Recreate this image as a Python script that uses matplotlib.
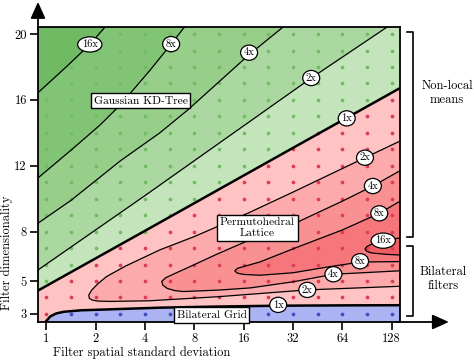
import numpy as np
import matplotlib
matplotlib.use("Agg")
import matplotlib.pyplot as plt
from matplotlib.ticker import NullLocator
from matplotlib.transforms import blended_transform_factory

plt.rcParams["font.family"] = ["cmr10", "DejaVu Serif"]
plt.rcParams["axes.unicode_minus"] = False

# plot extent: x in octaves of sigma (log2), y in filter dimensions
X_RANGE = (-0.17, 7.17)
Y_RANGE = (2.51, 20.43)

SIGMA_TICKS = [1, 2, 4, 8, 16, 32, 64, 128]
DIM_TICKS = [3, 5, 8, 12, 16, 20]

# measured sample points and which method was fastest there
# G = Gaussian KD-tree, R = permutohedral lattice, B = bilateral grid
SAMPLE_OCTAVES = [0, 0.5, 1, 1.5, 2, 2.5, 3, 3.5, 4, 4.5, 5, 5.5, 6, 6.5, 7]
SAMPLE_DIMS = [20, 19, 18, 17, 16, 15, 14, 13, 12, 11, 10, 9, 8, 7, 6, 5, 4, 3]
SAMPLE_WINNER = [
    "GGGGGGGGGGGGGGG",
    "GGGGGGGGGGGGGGG",
    "GGGGGGGGGGGGGGG",
    "GGGGGGGGGGGGGGG",
    "GGGGGGGGGGGGGGR",
    "GGGGGGGGGGGGGRR",
    "GGGGGGGGGGGRRRR",
    "GGGGGGGGGGRRRRR",
    "GGGGGGGGGRRRRRR",
    "GGGGGGGGRRRRRRR",
    "GGGGGGGRRRRRRRR",
    "GGGGGGRRRRRRRRR",
    "GGGGGRRRRRRRRRR",
    "GGGRRRRRRRRRRRR",
    "GGRRRRRRRRRRRRR",
    "GRRRRRRRRRRRRRR",
    "RRRRRRRRRRRRRRR",
    "RBBBBBBBBBBBBBB",
]

# Gaussian KD-tree speed-up contours (octaves, dims), left edge -> top edge
KD_1X_OCT = [-0.17, 2.0, 4.74, 7.17]
KD_1X_DIM = [4.42, 8.05, 12.65, 16.72]
KD_2X_OCT = [-0.17, 2.0, 5.37, 6.91]
KD_2X_DIM = [5.67, 10.19, 17.33, 20.43]
KD_4X_OCT = [-0.17, 0.5, 1.5, 2.3, 2.87, 3.5, 4.11, 4.8]
KD_4X_DIM = [8.51, 9.9, 12.3, 14.0, 15.4, 17.1, 18.75, 20.43]
KD_8X_OCT = [-0.17, 0.5, 1.09, 1.5, 2.1, 2.53, 2.8]
KD_8X_DIM = [11.26, 12.95, 14.48, 15.7, 17.8, 19.39, 20.43]
KD_16X_OCT = [-0.17, 0.4, 0.88, 1.19]
KD_16X_DIM = [16.44, 18.0, 19.37, 20.43]

# bilateral grid / lattice boundary (1x), bottom-left -> right edge
GRID_1X_OCT = [-0.02, 0.08, 0.2, 0.35, 0.7, 1.5, 2.3, 3.5, 4.7, 6.0, 7.17]
GRID_1X_DIM = [2.51, 2.85, 3.03, 3.13, 3.22, 3.30, 3.38, 3.45, 3.50, 3.52, 3.53]

# permutohedral speed-up contours: upper branch (right edge -> tip) then lower
LAT_2X_OCT = [7.17, 6.46, 5.0, 4.0, 3.0, 2.3, 1.6, 1.22, 1.05, 0.92, 0.86,
              0.87, 0.93, 1.05, 1.3, 2.1, 3.5, 5.29, 7.17]
LAT_2X_DIM = [13.5, 12.49, 10.4, 9.0, 7.7, 6.89, 5.9, 5.27, 4.85, 4.45, 4.15,
              3.95, 3.84, 3.78, 3.76, 3.80, 4.05, 4.46, 4.68]
LAT_4X_OCT = [7.17, 6.62, 6.0, 5.1, 4.2, 3.42, 2.91, 2.6, 2.42, 2.34, 2.36,
              2.45, 2.6, 2.77, 3.5, 4.13, 5.0, 5.82, 7.17]
LAT_4X_DIM = [11.7, 10.77, 9.85, 8.59, 7.6, 6.58, 5.87, 5.45, 5.2, 4.98, 4.75,
              4.55, 4.42, 4.36, 4.45, 4.58, 4.95, 5.41, 5.62]
LAT_8X_OCT = [7.17, 6.75, 6.0, 5.1, 4.33, 4.05, 3.88, 3.82, 3.87, 4.0, 4.33,
              5.0, 5.7, 6.36, 7.17]
LAT_8X_DIM = [9.85, 9.11, 8.1, 7.07, 6.16, 5.92, 5.78, 5.62, 5.48, 5.4, 5.35,
              5.5, 5.85, 6.15, 6.18]
LAT_16X_OCT = [7.17, 6.83, 6.6, 6.5, 6.46, 6.5, 6.6, 6.9, 7.17]
LAT_16X_DIM = [7.62, 7.45, 7.25, 7.1, 6.95, 6.8, 6.7, 6.62, 6.58]

# contour labels
LABEL_TEXT = ["16x", "8x", "4x", "2x", "1x",
              "2x", "4x", "8x", "16x",
              "8x", "4x", "2x", "1x"]
LABEL_OCT = [0.88, 2.53, 4.11, 5.37, 6.09,
             6.46, 6.62, 6.75, 6.83,
             6.36, 5.82, 5.29, 4.70]
LABEL_DIM = [19.37, 19.39, 18.87, 17.33, 14.88,
             12.49, 10.77, 9.11, 7.45,
             6.2, 5.41, 4.46, 3.55]

GREENS = ["#c4e4bc", "#aad8a0", "#96ce8a", "#82c475", "#6fba62"]
REDS = ["#ffc3c3", "#fcaaab", "#f99193", "#f5777b", "#f05e63"]
BLUE = "#abb3f2"
DOT_COLORS = {"G": "#72bc64", "R": "#e03a55", "B": "#3d4fc0"}


def oct2x(o):
    return np.exp2(np.asarray(o, dtype=float))


fig = plt.figure(figsize=(4.74, 3.62), dpi=100)
ax = fig.add_axes([38 / 474, 40 / 362, 362 / 474, 295 / 362])
ax.set_xscale("log", base=2)
x_lo, x_hi = oct2x(X_RANGE[0]), oct2x(X_RANGE[1])
y_lo, y_hi = Y_RANGE
ax.set_xlim(x_lo, x_hi)
ax.set_ylim(y_lo, y_hi)
ax.set_facecolor(REDS[0])

# green bands (above each KD-tree line)
kd_lines = [(KD_1X_OCT, KD_1X_DIM), (KD_2X_OCT, KD_2X_DIM), (KD_4X_OCT, KD_4X_DIM),
            (KD_8X_OCT, KD_8X_DIM), (KD_16X_OCT, KD_16X_DIM)]
for (o, d), col in zip(kd_lines, GREENS):
    xs = list(oct2x(o)) + [oct2x(o[-1]), x_lo]
    ys = list(d) + [y_hi, y_hi]
    ax.fill(xs, ys, color=col, lw=0, zorder=1)

# bilateral grid strip
xs = list(oct2x(GRID_1X_OCT)) + [x_hi, oct2x(GRID_1X_OCT[0])]
ys = list(GRID_1X_DIM) + [y_lo, y_lo]
ax.fill(xs, ys, color=BLUE, lw=0, zorder=1)

# lattice bands (nested hairpins)
lat_lines = [(LAT_2X_OCT, LAT_2X_DIM), (LAT_4X_OCT, LAT_4X_DIM),
             (LAT_8X_OCT, LAT_8X_DIM), (LAT_16X_OCT, LAT_16X_DIM)]
for (o, d), col in zip(lat_lines, REDS[1:]):
    ax.fill(oct2x(o), d, color=col, lw=0, zorder=1)

# sample dots
for dim, row in zip(SAMPLE_DIMS, SAMPLE_WINNER):
    for o, w in zip(SAMPLE_OCTAVES, row):
        ax.scatter(oct2x(o), dim, s=7, color=DOT_COLORS[w], lw=0, zorder=2)

# contour lines
for o, d in kd_lines[1:] + lat_lines:
    ax.plot(oct2x(o), d, color="black", lw=0.9, zorder=3)
for o, d in [(KD_1X_OCT, KD_1X_DIM), (GRID_1X_OCT, GRID_1X_DIM)]:
    ax.plot(oct2x(o), d, color="black", lw=1.8, zorder=3, solid_capstyle="butt")

for t, o, d in zip(LABEL_TEXT, LABEL_OCT, LABEL_DIM):
    ax.text(oct2x(o), d, t, ha="center", va="center", fontsize=7.5, zorder=6,
            bbox=dict(boxstyle="ellipse,pad=0.06", fc="white", ec="black", lw=0.9))

box = dict(boxstyle="square,pad=0.25", fc="white", ec="black", lw=1.0)
ax.text(oct2x(1.91), 15.95, "Gaussian KD-Tree", ha="center", va="center",
        fontsize=8.3, zorder=6, bbox=box)
ax.text(oct2x(4.28), 8.22, "Permutohedral\nLattice", ha="center", va="center",
        fontsize=8.3, zorder=6, bbox=box, linespacing=1.15)
ax.text(oct2x(3.35), 2.94, "Bilateral Grid", ha="center", va="center",
        fontsize=8.3, zorder=6, bbox=box, clip_on=False)

# axes styling
ax.set_xticks(SIGMA_TICKS)
ax.set_xticklabels([str(v) for v in SIGMA_TICKS])
ax.xaxis.set_minor_locator(NullLocator())
ax.set_yticks(DIM_TICKS)
ax.set_yticklabels([str(v) for v in DIM_TICKS])
ax.tick_params(direction="out", length=6, width=1.2, labelsize=9, pad=2)
for sp in ax.spines.values():
    sp.set_linewidth(1.3)
    sp.set_zorder(5)

ax.set_xlabel("Filter spatial standard deviation", fontsize=9, loc="left")
ax.xaxis.set_label_coords(15 / 362, -24 / 295)
ax.set_ylabel("Filter dimensionality", fontsize=9, loc="bottom")
ax.yaxis.set_label_coords(-25 / 362, 12 / 295)

arrow = dict(arrowstyle="-|>,head_length=1.0,head_width=0.45", color="black",
             lw=1.3, shrinkA=0, shrinkB=0)
ax.annotate("", xy=(0, 1.085), xytext=(0, 0.99), xycoords="axes fraction",
            arrowprops=arrow, annotation_clip=False)
ax.annotate("", xy=(1.135, 0), xytext=(0.99, 0), xycoords="axes fraction",
            arrowprops=arrow, annotation_clip=False)

# method brackets on the right
trans = blended_transform_factory(ax.transAxes, ax.transData)
ax.plot([1.019, 1.035, 1.035, 1.019], [20.12, 20.12, 7.68, 7.68],
        transform=trans, clip_on=False, color="black", lw=1.2)
ax.plot([1.019, 1.035, 1.035, 1.019], [7.13, 7.13, 2.88, 2.88],
        transform=trans, clip_on=False, color="black", lw=1.2)
ax.text(1.13, 16.42, "Non-local\nmeans", transform=trans, ha="center",
        va="center", fontsize=9, linespacing=1.25)
ax.text(1.12, 5.12, "Bilateral\nfilters", transform=trans, ha="center",
        va="center", fontsize=9, linespacing=1.25)

fig.savefig("out.png", dpi=100)
